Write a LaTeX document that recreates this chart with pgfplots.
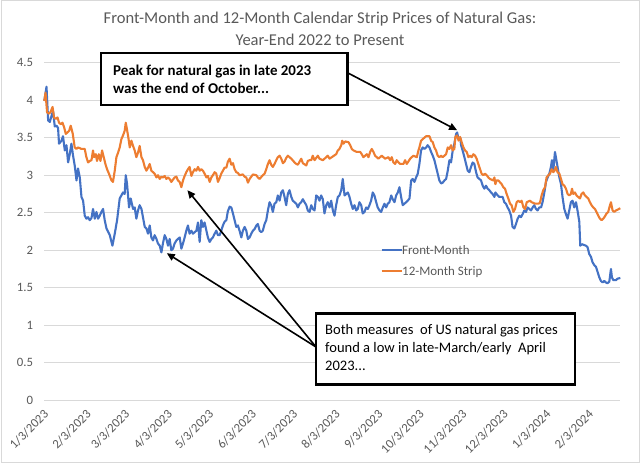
\documentclass[border=0pt]{standalone}
\usepackage{fontspec}
\setmainfont{Carlito}
\usepackage{pgfplots}
\pgfplotsset{compat=1.18}
\usetikzlibrary{arrows.meta}
\definecolor{fmblue}{HTML}{4472C4}
\definecolor{stripor}{HTML}{ED7D31}
\definecolor{txtgray}{HTML}{595959}
\definecolor{gridgray}{HTML}{D9D9D9}
\begin{document}
\begin{tikzpicture}
\useasboundingbox (0,0) rectangle (640bp,464bp);
\draw[gridgray, line width=1bp] (1bp,1.5bp) rectangle (639bp,463bp);
\node[anchor=base, inner sep=0pt, text=txtgray, font=\fontsize{16.6}{20}\selectfont] at (320bp,440.5bp) {Front-Month and 12-Month Calendar Strip Prices of Natural Gas:};
\node[anchor=base, inner sep=0pt, text=txtgray, font=\fontsize{16.6}{20}\selectfont] at (320bp,418.5bp) {Year-End 2022 to Present};
\begin{axis}[
  at={(44.3bp,63.8bp)}, anchor=south west,
  scale only axis, width=576bp, height=337.5bp,
  xmin=0, xmax=418.6, ymin=0, ymax=4.5,
  axis line style={draw=none},
  tick style={draw=none},
  ymajorgrids, grid style={gridgray, line width=0.9bp},
  ytick={0,0.5,1,1.5,2,2.5,3,3.5,4,4.5},
  yticklabels={0,0.5,1,1.5,2,2.5,3,3.5,4,4.5},
  xtick={0,31,59,90,120,151,181,212,243,273,304,334,365,396},
  xticklabels={1/3/2023,2/3/2023,3/3/2023,4/3/2023,5/3/2023,6/3/2023,7/3/2023,8/3/2023,9/3/2023,10/3/2023,11/3/2023,12/3/2023,1/3/2024,2/3/2024},
  ticklabel style={text=txtgray, font=\fontsize{12.8}{15}\selectfont},
  yticklabel style={anchor=east, inner sep=0pt, xshift=-11bp},
  xticklabel style={xshift=2bp, yshift=-12bp, rotate=45, anchor=east, inner sep=0pt},
  clip=false,
]
\addplot[fmblue, line width=2.1bp, line join=round, mark=none] coordinates {
(0,3.99)(1.6,4.18)(2.8,3.73)(4.0,3.71)(5.7,3.82)(6.4,3.85)(7.6,3.65)(8.9,3.66)(10.0,3.63)(10.7,3.42)(12.5,3.46)(13.6,3.52)(14.9,3.33)(16.1,3.40)(17.3,3.17)(18.5,3.28)(19.7,3.42)(20.9,3.26)(22.1,3.13)(23.4,2.93)(24.5,3.09)(25.8,2.97)(27.0,2.71)(28.2,2.66)(29.4,2.46)(30.6,2.42)(31.8,2.44)(33.0,2.40)(34.3,2.43)(35.4,2.55)(36.7,2.42)(37.9,2.51)(39.1,2.42)(40.3,2.46)(41.5,2.51)(42.7,2.55)(43.9,2.40)(45.2,2.29)(47.6,2.20)(49.5,2.06)(51.2,2.22)(52.9,2.40)(54.8,2.69)(56.0,2.73)(57.2,2.77)(58.4,2.75)(59.2,3.00)(60.1,2.89)(61.6,2.57)(62.8,2.69)(64.5,2.55)(65.7,2.57)(66.9,2.42)(68.1,2.53)(69.3,2.60)(70.6,2.55)(71.7,2.44)(73.0,2.31)(74.2,2.29)(75.4,2.22)(76.6,2.33)(77.8,2.17)(79.0,2.13)(80.2,2.20)(81.5,2.15)(82.6,2.09)(83.9,2.06)(85.1,1.97)(86.2,2.09)(87.5,2.20)(88.7,2.15)(89.9,2.06)(91.1,2.15)(92.3,2.00)(93.5,2.02)(94.7,2.09)(96.0,2.13)(97.1,2.15)(98.4,2.17)(99.6,2.02)(100.8,2.09)(102.0,2.17)(103.2,2.26)(104.4,2.33)(105.6,2.22)(106.9,2.26)(108.0,2.22)(109.3,2.24)(110.5,2.26)(111.7,2.37)(112.9,2.11)(114.1,2.40)(115.3,2.31)(116.5,2.37)(117.8,2.26)(118.9,2.17)(120.2,2.11)(121.4,2.15)(122.5,2.17)(123.8,2.22)(125.0,2.26)(126.2,2.20)(127.4,2.20)(128.6,2.26)(129.8,2.33)(131.0,2.38)(132.3,2.40)(133.4,2.52)(134.7,2.58)(135.9,2.57)(137.1,2.49)(138.3,2.40)(139.5,2.31)(140.7,2.33)(141.9,2.26)(143.2,2.17)(144.3,2.26)(145.6,2.31)(146.8,2.26)(148.0,2.15)(149.2,2.17)(150.4,2.22)(151.6,2.26)(152.8,2.28)(154.1,2.33)(155.2,2.35)(156.5,2.26)(157.7,2.24)(158.8,2.26)(160.1,2.35)(161.3,2.40)(162.5,2.53)(163.7,2.64)(164.9,2.60)(166.1,2.51)(167.3,2.62)(168.6,2.64)(169.7,2.73)(171.0,2.66)(172.2,2.77)(173.4,2.80)(174.6,2.71)(175.8,2.60)(177.0,2.75)(178.2,2.80)(179.5,2.71)(180.6,2.66)(181.9,2.64)(183.1,2.62)(184.3,2.57)(185.5,2.62)(186.7,2.64)(187.9,2.68)(189.1,2.64)(190.4,2.60)(191.5,2.53)(192.8,2.51)(194.0,2.60)(195.1,2.55)(196.4,2.53)(197.6,2.73)(198.8,2.71)(200.0,2.66)(201.2,2.73)(202.4,2.68)(203.6,2.49)(204.9,2.60)(206.0,2.64)(207.3,2.57)(208.5,2.66)(209.7,2.53)(210.9,2.46)(212.1,2.60)(213.3,2.71)(214.5,2.73)(215.8,2.80)(216.9,2.95)(218.2,2.73)(219.4,2.75)(220.6,2.77)(221.8,2.71)(223.0,2.62)(224.2,2.55)(225.4,2.60)(226.7,2.53)(227.8,2.55)(229.0,2.64)(230.3,2.60)(231.4,2.49)(232.7,2.51)(233.9,2.57)(235.1,2.55)(236.3,2.60)(237.5,2.66)(238.7,2.77)(239.9,2.73)(241.2,2.64)(242.3,2.57)(243.6,2.53)(244.8,2.51)(246.0,2.57)(247.2,2.62)(248.4,2.57)(249.6,2.62)(250.8,2.64)(252.1,2.73)(253.2,2.68)(254.5,2.64)(255.7,2.73)(256.9,2.77)(258.1,2.84)(259.3,2.71)(260.5,2.60)(261.7,2.62)(263.0,2.64)(264.1,2.66)(265.4,2.69)(266.6,2.93)(267.7,2.95)(269.0,2.91)(270.2,2.97)(271.4,3.02)(272.6,3.15)(273.8,3.33)(275.0,3.37)(276.2,3.35)(277.5,3.37)(278.6,3.40)(279.9,3.37)(281.1,3.31)(282.3,3.26)(283.5,3.20)(284.7,3.11)(285.9,3.02)(287.1,2.93)(288.4,2.89)(289.5,2.90)(290.8,2.93)(292.0,2.95)(293.2,3.06)(294.4,3.20)(295.6,3.17)(296.8,3.33)(298.0,3.42)(299.3,3.55)(300.0,3.57)(301.1,3.48)(302.2,3.50)(302.9,3.40)(304.0,3.33)(305.3,3.24)(306.5,3.15)(307.7,3.06)(308.9,3.04)(310.1,3.11)(311.3,3.17)(312.5,3.15)(313.8,3.04)(314.9,2.97)(316.2,2.95)(317.4,2.93)(318.6,2.86)(319.8,2.82)(321.0,2.86)(322.2,2.82)(323.4,2.80)(324.7,2.77)(325.8,2.75)(327.1,2.71)(327.8,2.77)(329.5,2.73)(330.7,2.71)(333.1,2.71)(334.3,2.64)(335.5,2.62)(336.7,2.57)(337.9,2.53)(339.2,2.46)(340.3,2.31)(341.6,2.29)(342.8,2.35)(344.0,2.42)(345.2,2.46)(346.4,2.44)(347.6,2.48)(348.8,2.53)(350.1,2.51)(351.2,2.57)(352.5,2.55)(353.7,2.53)(354.9,2.57)(356.1,2.60)(357.3,2.55)(358.5,2.53)(359.7,2.57)(361.0,2.57)(362.1,2.64)(363.4,2.77)(364.6,2.91)(365.8,2.97)(367.0,3.02)(368.2,3.11)(368.9,3.20)(369.9,3.06)(371.1,3.31)(371.8,3.24)(373.0,3.11)(374.3,2.97)(375.5,2.88)(376.6,2.71)(377.9,2.55)(379.1,2.48)(380.3,2.42)(381.5,2.53)(382.7,2.64)(383.9,2.66)(385.1,2.57)(386.4,2.64)(387.5,2.53)(388.8,2.38)(389.5,2.06)(390.7,2.08)(393.6,2.06)(394.8,2.04)(396.0,1.95)(397.3,1.91)(398.4,1.84)(399.7,1.80)(400.9,1.78)(402.1,1.71)(403.3,1.64)(404.5,1.59)(405.7,1.57)(406.9,1.59)(408.1,1.57)(409.3,1.56)(410.6,1.58)(411.8,1.75)(412.5,1.64)(413.5,1.60)(415.4,1.60)(416.6,1.62)(418.6,1.63)
};
\addplot[stripor, line width=2.1bp, line join=round, mark=none] coordinates {
(0,3.99)(0.9,4.10)(2.0,3.84)(3.3,3.82)(4.5,3.84)(6.0,3.91)(7.1,3.77)(8.3,3.75)(9.6,3.77)(10.7,3.70)(12.0,3.68)(13.2,3.70)(14.4,3.64)(15.6,3.55)(16.8,3.57)(18.0,3.59)(19.2,3.66)(20.7,3.55)(22.1,3.37)(23.4,3.35)(24.5,3.37)(25.8,3.36)(27.0,3.35)(29.4,3.35)(30.6,3.24)(31.8,3.17)(33.0,3.19)(34.3,3.20)(35.4,3.33)(36.2,3.24)(37.4,3.28)(38.3,3.19)(39.6,3.28)(40.8,3.19)(42.0,3.33)(43.2,3.24)(44.4,3.15)(45.6,3.08)(47.0,3.02)(48.8,2.93)(49.9,2.91)(51.2,3.06)(52.4,3.24)(53.6,3.30)(54.8,3.37)(56.0,3.48)(57.2,3.53)(58.4,3.59)(59.2,3.70)(60.1,3.61)(61.1,3.50)(62.1,3.37)(63.3,3.46)(64.5,3.39)(65.7,3.33)(66.9,3.24)(68.1,3.30)(69.3,3.39)(70.6,3.24)(71.7,3.20)(73.0,3.11)(74.2,3.06)(75.4,3.10)(76.6,3.15)(77.8,3.06)(79.0,3.04)(80.2,3.02)(81.5,2.97)(82.6,3.00)(83.9,2.95)(85.1,2.98)(86.2,2.97)(87.5,2.99)(88.7,2.95)(89.9,2.97)(91.1,2.95)(92.3,2.91)(93.5,2.94)(94.7,2.97)(96.0,2.98)(97.1,2.93)(98.4,2.91)(99.6,2.84)(100.8,2.93)(102.0,2.99)(103.2,3.04)(104.4,3.08)(105.6,3.11)(106.9,2.99)(108.0,3.04)(109.3,3.08)(110.5,3.06)(111.7,3.11)(112.9,3.06)(114.1,3.08)(115.3,3.06)(116.5,3.02)(117.8,2.97)(118.9,2.99)(120.2,2.91)(121.4,2.97)(122.5,3.00)(123.8,3.04)(125.0,3.02)(126.2,2.91)(127.4,2.96)(128.6,3.02)(129.8,3.06)(131.0,3.10)(132.3,3.10)(133.4,3.18)(134.7,3.22)(135.9,3.14)(137.1,3.16)(138.3,3.08)(139.5,3.04)(140.7,3.03)(141.9,3.00)(144.3,3.01)(145.6,2.98)(146.8,2.97)(148.0,2.90)(149.2,2.95)(150.4,2.98)(151.6,3.01)(154.1,3.00)(155.2,2.97)(156.5,2.95)(158.8,3.00)(160.1,3.02)(161.3,3.08)(162.5,3.15)(163.7,3.20)(164.9,3.14)(166.1,3.11)(167.3,3.15)(168.6,3.20)(169.7,3.24)(171.0,3.26)(172.2,3.22)(173.4,3.16)(174.6,3.18)(175.8,3.23)(177.0,3.26)(178.2,3.24)(179.5,3.22)(181.9,3.17)(183.1,3.15)(184.3,3.14)(185.5,3.18)(186.7,3.22)(187.9,3.16)(190.4,3.13)(191.5,3.19)(192.8,3.20)(194.0,3.20)(195.1,3.26)(196.4,3.20)(198.8,3.26)(200.0,3.22)(202.4,3.20)(204.9,3.24)(206.0,3.26)(207.3,3.22)(209.7,3.25)(212.1,3.28)(213.3,3.33)(214.5,3.35)(215.8,3.40)(216.5,3.46)(217.4,3.42)(218.7,3.45)(221.1,3.44)(222.3,3.40)(223.5,3.35)(224.7,3.33)(227.1,3.31)(229.6,3.31)(230.7,3.28)(231.9,3.24)(234.4,3.28)(235.6,3.24)(236.8,3.31)(238.0,3.35)(239.2,3.31)(240.4,3.26)(241.6,3.24)(242.8,3.22)(245.2,3.26)(247.7,3.22)(250.1,3.24)(251.3,3.20)(252.5,3.24)(253.7,3.17)(255.0,3.15)(256.1,3.20)(257.4,3.17)(258.6,3.15)(261.0,3.15)(262.2,3.20)(263.4,3.15)(265.9,3.22)(267.0,3.24)(268.3,3.26)(270.7,3.24)(271.9,3.33)(272.6,3.37)(273.8,3.46)(275.0,3.48)(276.2,3.50)(277.5,3.52)(279.9,3.52)(281.1,3.46)(282.3,3.44)(283.5,3.37)(284.7,3.33)(285.9,3.26)(287.1,3.24)(288.4,3.26)(289.5,3.24)(292.0,3.28)(293.2,3.37)(294.4,3.35)(295.6,3.40)(296.8,3.33)(298.0,3.35)(298.7,3.51)(300.0,3.53)(301.1,3.46)(302.2,3.51)(303.3,3.44)(304.6,3.37)(305.8,3.33)(307.0,3.31)(308.2,3.24)(309.4,3.26)(310.6,3.24)(311.8,3.28)(313.1,3.26)(314.2,3.22)(315.4,3.15)(316.7,3.08)(317.8,3.02)(319.1,3.00)(320.3,3.02)(321.5,3.00)(322.7,2.97)(323.9,2.95)(326.3,2.93)(327.1,2.97)(327.8,2.88)(328.7,2.93)(330.0,2.93)(332.4,2.88)(333.6,2.84)(334.8,2.82)(336.0,2.75)(337.2,2.69)(338.5,2.62)(339.6,2.60)(340.9,2.51)(342.1,2.55)(343.3,2.64)(344.5,2.66)(345.7,2.64)(346.9,2.66)(348.2,2.57)(349.4,2.55)(350.6,2.64)(353.0,2.66)(354.2,2.64)(356.7,2.62)(359.1,2.62)(360.2,2.63)(361.4,2.73)(362.6,2.80)(363.9,2.84)(365.0,2.97)(366.3,3.00)(367.5,3.02)(368.7,3.08)(369.9,3.04)(370.8,3.06)(371.8,3.11)(373.0,3.04)(374.3,3.02)(375.5,2.95)(376.6,2.88)(377.9,2.86)(379.1,2.82)(380.3,2.75)(381.5,2.73)(382.7,2.75)(383.5,2.82)(384.4,2.75)(385.6,2.77)(386.8,2.73)(388.0,2.71)(389.3,2.69)(390.4,2.75)(391.7,2.77)(392.9,2.73)(394.1,2.71)(395.3,2.69)(396.5,2.64)(397.7,2.60)(398.9,2.57)(400.2,2.55)(401.3,2.51)(402.6,2.46)(403.8,2.42)(405.0,2.40)(406.2,2.42)(407.4,2.45)(408.6,2.49)(409.8,2.51)(411.1,2.60)(411.8,2.64)(413.0,2.53)(414.2,2.51)(415.4,2.53)(416.6,2.54)(418.6,2.56)
};
\coordinate (pk) at (axis cs:300,3.60);
\coordinate (olow) at (axis cs:104,2.80);
\coordinate (blow) at (axis cs:89,1.96);
\end{axis}
% legend
\draw[fmblue, line width=2.1bp] (381.7bp,214bp) -- (401.7bp,214bp);
\node[anchor=base west, inner sep=0pt, text=txtgray, font=\fontsize{13}{15}\selectfont] at (402bp,209.8bp) {Front-Month};
\draw[stripor, line width=2.1bp] (381.7bp,193bp) -- (401.7bp,193bp);
\node[anchor=base west, inner sep=0pt, text=txtgray, font=\fontsize{13}{15}\selectfont] at (402bp,188.8bp) {12-Month Strip};
% arrows
\draw[-{Triangle[length=8bp,width=7bp]}, line width=1.6bp] (348bp,391bp) -- (pk);
\draw[-{Triangle[length=8bp,width=7bp]}, line width=1.6bp] (316bp,117bp) -- (olow);
\draw[-{Triangle[length=8bp,width=7bp]}, line width=1.6bp] (316bp,117bp) -- (blow);
% boxes
\draw[line width=2.6bp, fill=white] (101bp,411bp) rectangle (347.5bp,359bp);
\node[anchor=base west, inner sep=0pt, font=\bfseries\fontsize{15}{18}\selectfont] at (113bp,388bp) {Peak for natural gas in late 2023};
\node[anchor=base west, inner sep=0pt, font=\bfseries\fontsize{15}{18}\selectfont] at (113bp,370bp) {was the end of October...};
\draw[line width=2.6bp, fill=white] (316bp,150.7bp) rectangle (575bp,79.7bp);
\node[anchor=base west, inner sep=0pt, font=\fontsize{14.6}{17}\selectfont] at (325bp,129.7bp) {Both measures\ \ of US natural gas prices};
\node[anchor=base west, inner sep=0pt, font=\fontsize{14.6}{17}\selectfont] at (325bp,111.7bp) {found a low in late-March/early\ \ April};
\node[anchor=base west, inner sep=0pt, font=\fontsize{14.6}{17}\selectfont] at (325bp,93.3bp) {2023...};
\end{tikzpicture}
\end{document}
